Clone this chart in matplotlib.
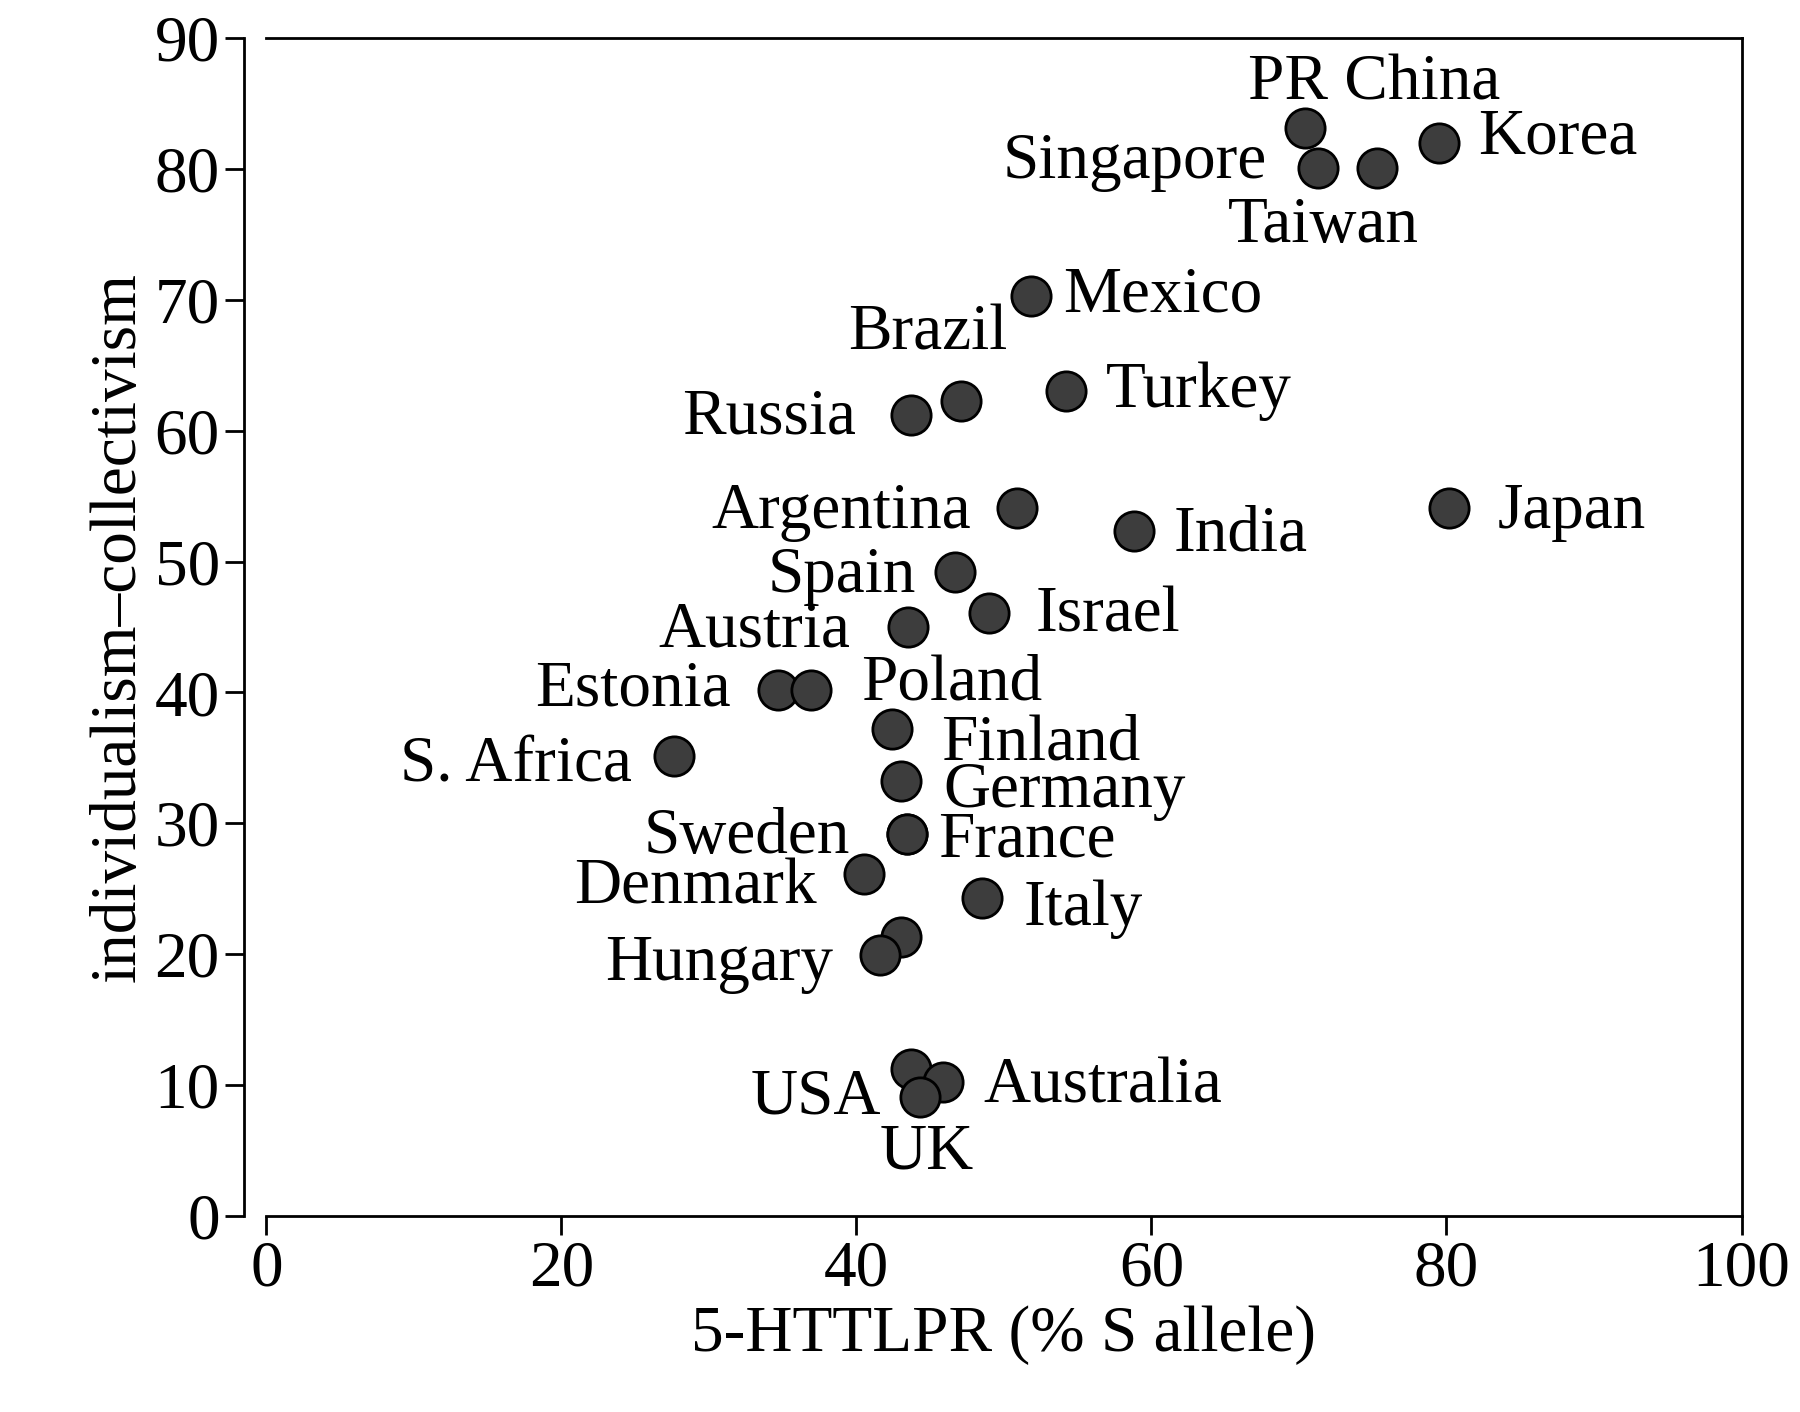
import matplotlib
matplotlib.use("Agg")
import matplotlib.pyplot as plt

countries = ["PR China","Korea","Singapore","Taiwan","Mexico","Brazil","Turkey","Russia",
             "Argentina","Japan","India","Spain","Israel","Austria","Estonia","Poland",
             "Finland","S. Africa","Germany","France","Sweden","Denmark","Italy","",
             "Hungary","USA","Australia","UK"]
s_allele = [70.4,79.5,71.3,75.3,51.8,47.1,54.2,43.7,50.9,80.2,58.8,46.7,49.0,43.5,34.7,36.9,
            42.4,27.6,43.0,43.4,43.4,40.5,48.5,43.0,41.6,43.7,45.9,44.3]
collectivism = [83.1,82.0,80.1,80.1,70.3,62.3,63.0,61.2,54.1,54.1,52.3,49.2,46.1,45.0,40.2,40.2,
                37.2,35.1,33.2,29.2,29.2,26.1,24.3,21.3,19.9,11.2,10.2,9.1]

# label offsets (output pixels)
k = 1.148
offsets = {"PR China":(60,39),"Korea":(103,4),"Singapore":(-160,5),"Taiwan":(-47,-51),
           "Mexico":(115,0),"Brazil":(-29,58),"Turkey":(116,0),"Russia":(-124,-2),
           "Argentina":(-153,-4),"Japan":(107,-4),"India":(93,-3),"Spain":(-99,-4),
           "Israel":(103,-3),"Austria":(-134,-3),"Estonia":(-127,0),"Poland":(123,5),
           "Finland":(130,-13),"S. Africa":(-137,-8),"Germany":(143,-9),"France":(105,-6),
           "Sweden":(-139,-3),"Denmark":(-147,-12),"Italy":(88,-10),"Hungary":(-140,-8),
           "USA":(-83,-25),"Australia":(139,-4),"UK":(6,-49)}

plt.rcParams['font.family'] = ['Liberation Serif', 'DejaVu Serif']
fig = plt.figure(figsize=(18, 14.12), dpi=100)
ax = fig.add_axes([0.148, 0.139, 0.8195, 0.834])
ax.scatter(s_allele, collectivism, s=800, facecolor='#3d3d3d', edgecolor='black',
           linewidth=2, zorder=3, clip_on=False)
for name, x, y in zip(countries, s_allele, collectivism):
    if name:
        dx, dy = offsets[name]
        ax.annotate(name, (x, y), xytext=(dx*k, dy*k), textcoords='offset pixels',
                    ha='center', va='center', fontsize=47)
ax.set_xlim(0, 100)
ax.set_ylim(0, 90)
ax.set_xticks(range(0, 101, 20))
ax.set_yticks(range(0, 91, 10))
ax.tick_params(labelsize=47, direction='out', length=14, width=2)
for sp in ax.spines.values():
    sp.set_linewidth(2)
ax.spines['left'].set_position(('outward', 16))
ax.spines['bottom'].set_bounds(0, 100)
ax.set_xlabel("5-HTTLPR (% S allele)", fontsize=47)
ax.set_ylabel("individualism–collectivism", fontsize=47)
fig.savefig("out.png", dpi=100)
